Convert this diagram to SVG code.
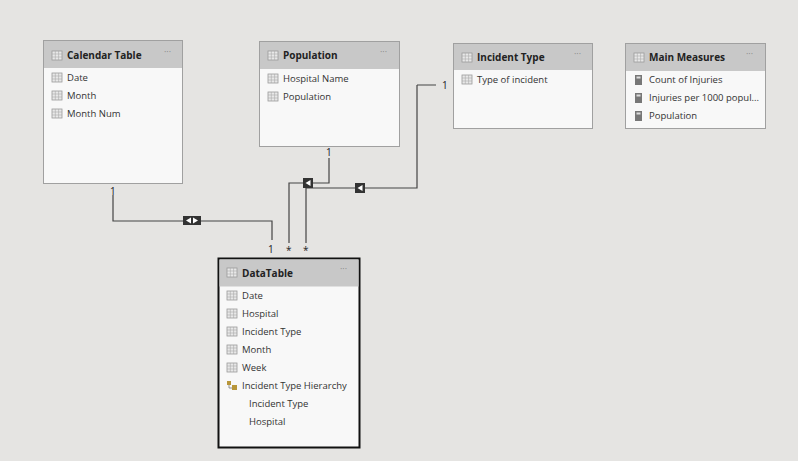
<svg xmlns="http://www.w3.org/2000/svg" width="798" height="461" viewBox="0 0 798 461">
<style>
text{font-family:"Segoe UI","Open Sans","Liberation Sans",sans-serif;font-size:9.5px;fill:#333}
.t{font-weight:bold;font-size:10px;fill:#222}
.box{fill:#f8f8f8;stroke:#a0a0a0;stroke-width:1}
.hd{fill:#c8c8c8}
.c{fill:none;stroke:#444;stroke-width:1.2}
.lbl{font-size:10px;fill:#222}
.dots{fill:#888;font-size:9px}
</style>
<defs>
<g id="ti"><rect x="0" y="0" width="10" height="9" fill="#e8e8e8" stroke="#999" stroke-width="0.8"/><path d="M0 3H10M0 6H10M3.3 0V9M6.6 0V9" stroke="#aaa" stroke-width="0.6"/></g>
<g id="calc"><rect x="1" y="0" width="7" height="10" fill="#777"/><rect x="2.5" y="1.5" width="4" height="2" fill="#ddd"/></g>
</defs>
<rect width="798" height="461" fill="#e5e4e2"/>
<g id="connectors">
<path class="c" d="M113 195V221H272V240"/>
<path class="c" d="M329 158V183H289V243"/>
<path class="c" d="M417 85H436 M417 85V188H306V243"/>
<rect x="183" y="216" width="18" height="9" fill="#333"/>
<path d="M191 217.5L186 220.5L191 223.5Z M193 217.5L198 220.5L193 223.5Z" fill="#fff"/>
<rect x="303" y="178" width="10" height="10" fill="#333"/>
<path d="M310.5 180L305.5 183L310.5 186Z" fill="#fff"/>
<rect x="355" y="183" width="10" height="10" fill="#333"/>
<path d="M362.5 185L357.5 188L362.5 191Z" fill="#fff"/>
<text class="lbl" x="110" y="195">1</text>
<text class="lbl" x="268" y="253">1</text>
<text class="lbl" x="286" y="254">*</text>
<text class="lbl" x="303" y="254">*</text>
<text class="lbl" x="326" y="156">1</text>
<text class="lbl" x="442" y="89">1</text>
</g>
<g id="calendar">
<rect class="box" x="43.5" y="40.5" width="139" height="143"/>
<rect class="hd" x="44" y="41" width="138" height="27"/>
<use href="#ti" x="52" y="51"/><text class="t" x="67" y="59">Calendar Table</text><text class="dots" x="164" y="55">···</text>
<use href="#ti" x="52" y="73"/><text x="67" y="81">Date</text>
<use href="#ti" x="52" y="91"/><text x="67" y="99">Month</text>
<use href="#ti" x="52" y="109"/><text x="67" y="117">Month Num</text>
</g>
<g id="population">
<rect class="box" x="259.5" y="41.5" width="140" height="105"/>
<rect class="hd" x="260" y="42" width="139" height="27"/>
<use href="#ti" x="268" y="51"/><text class="t" x="283" y="59">Population</text><text class="dots" x="380" y="55">···</text>
<use href="#ti" x="268" y="74"/><text x="283" y="82">Hospital Name</text>
<use href="#ti" x="268" y="92"/><text x="283" y="100">Population</text>
</g>
<g id="incident">
<rect class="box" x="453.5" y="43.5" width="139" height="85"/>
<rect class="hd" x="454" y="44" width="138" height="26"/>
<use href="#ti" x="462" y="53"/><text class="t" x="477" y="61">Incident Type</text><text class="dots" x="574" y="57">···</text>
<use href="#ti" x="462" y="75"/><text x="477" y="83">Type of incident</text>
</g>
<g id="measures">
<rect class="box" x="625.5" y="43.5" width="140" height="85"/>
<rect class="hd" x="626" y="44" width="139" height="27"/>
<use href="#ti" x="634" y="53"/><text class="t" x="649" y="61">Main Measures</text><text class="dots" x="746" y="57">···</text>
<use href="#calc" x="634" y="75"/><text x="649" y="83">Count of Injuries</text>
<use href="#calc" x="634" y="93"/><text x="649" y="101">Injuries per 1000 popul...</text>
<use href="#calc" x="634" y="111"/><text x="649" y="119">Population</text>
</g>
<g id="datatable">
<rect x="218.5" y="258.5" width="141" height="189" fill="#f8f8f8" stroke="#111" stroke-width="2"/>
<rect class="hd" x="219.5" y="259.5" width="139" height="27"/>
<use href="#ti" x="227" y="268"/><text class="t" x="242" y="277">DataTable</text><text class="dots" x="340" y="272">···</text>
<use href="#ti" x="227" y="291"/><text x="242" y="299">Date</text>
<use href="#ti" x="227" y="309"/><text x="242" y="317">Hospital</text>
<use href="#ti" x="227" y="327"/><text x="242" y="335">Incident Type</text>
<use href="#ti" x="227" y="345"/><text x="242" y="353">Month</text>
<use href="#ti" x="227" y="363"/><text x="242" y="371">Week</text>
<g transform="translate(227,381)"><rect x="0" y="0" width="4" height="4" fill="#b8963a"/><rect x="5" y="4" width="5" height="5" fill="#b8963a"/><path d="M2 4V7H5" stroke="#777" fill="none" stroke-width="0.8"/></g>
<text x="242" y="389">Incident Type Hierarchy</text>
<text x="249" y="407">Incident Type</text>
<text x="249" y="425">Hospital</text>
</g>
</svg>
